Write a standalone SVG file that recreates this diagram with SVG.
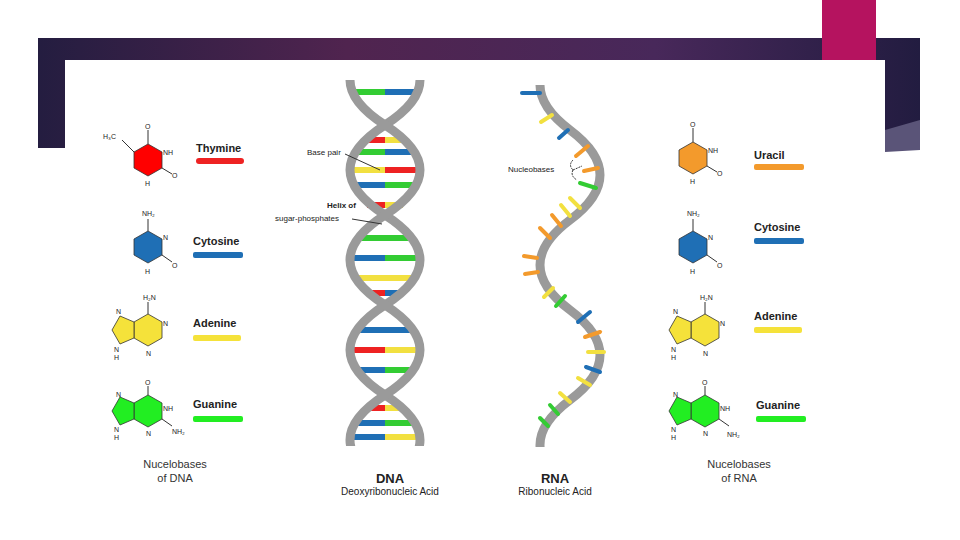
<svg xmlns="http://www.w3.org/2000/svg" width="960" height="540" viewBox="0 0 960 540">
<defs>
<linearGradient id="band" x1="0" x2="1" y1="0" y2="0">
<stop offset="0" stop-color="#241d40"/><stop offset="0.35" stop-color="#50244f"/><stop offset="0.7" stop-color="#48285a"/><stop offset="1" stop-color="#221c40"/>
</linearGradient>
<clipPath id="dnaClip"><rect x="300" y="80" width="170" height="366"/></clipPath>
<clipPath id="rnaClip"><rect x="500" y="85" width="130" height="362"/></clipPath>
</defs>
<style>
.t{font-family:"Liberation Sans",Arial,sans-serif;fill:#222}
.lab{font-size:11px;font-weight:bold}
.sm{font-size:7px}
.cap{font-size:11px;fill:#333}
.ann{font-size:8px}
.strand{fill:none;stroke:#9a9a9a;stroke-width:9}
.rung{stroke-width:6;stroke-linecap:butt}
.stub{stroke-width:4;stroke-linecap:round}
.ring{stroke:#333;stroke-width:0.8}
.bond{stroke:#333;stroke-width:1;fill:none}
</style>
<rect width="960" height="540" fill="#fff"/>
<g id="frame">
<rect x="38" y="38" width="882" height="110" fill="url(#band)"/>
<polygon points="885,130 920,120 920,150 885,152" fill="#5a5478"/>
<rect x="822" y="0" width="54" height="60" fill="#b5135f"/>
<rect x="65" y="60" width="820" height="480" fill="#fff"/>
</g>
<g id="dna">
<g clip-path="url(#dnaClip)">
<g id="rungs">
<line class="rung" x1="353" y1="92" x2="385" y2="92" stroke="#3c3"/><line class="rung" x1="385" y1="92" x2="417" y2="92" stroke="#1f6fb5"/>
<line class="rung" x1="367" y1="140" x2="385" y2="140" stroke="#e22"/><line class="rung" x1="385" y1="140" x2="403" y2="140" stroke="#f2e040"/>
<line class="rung" x1="358" y1="152" x2="385" y2="152" stroke="#3c3"/><line class="rung" x1="385" y1="152" x2="412" y2="152" stroke="#1f6fb5"/>
<line class="rung" x1="350" y1="170" x2="385" y2="170" stroke="#f2e040"/><line class="rung" x1="385" y1="170" x2="420" y2="170" stroke="#e22"/>
<line class="rung" x1="353" y1="185" x2="385" y2="185" stroke="#1f6fb5"/><line class="rung" x1="385" y1="185" x2="417" y2="185" stroke="#3c3"/>
<line class="rung" x1="367" y1="205" x2="385" y2="205" stroke="#e22"/><line class="rung" x1="385" y1="205" x2="403" y2="205" stroke="#f2e040"/>
<line class="rung" x1="358" y1="238" x2="385" y2="238" stroke="#3c3"/><line class="rung" x1="385" y1="238" x2="412" y2="238" stroke="#3c3"/>
<line class="rung" x1="352" y1="258" x2="385" y2="258" stroke="#1f6fb5"/><line class="rung" x1="385" y1="258" x2="418" y2="258" stroke="#3c3"/>
<line class="rung" x1="355" y1="278" x2="385" y2="278" stroke="#f2e040"/><line class="rung" x1="385" y1="278" x2="415" y2="278" stroke="#f2e040"/>
<line class="rung" x1="367" y1="293" x2="385" y2="293" stroke="#e22"/><line class="rung" x1="385" y1="293" x2="403" y2="293" stroke="#1f6fb5"/>
<line class="rung" x1="358" y1="330" x2="385" y2="330" stroke="#1f6fb5"/><line class="rung" x1="385" y1="330" x2="412" y2="330" stroke="#1f6fb5"/>
<line class="rung" x1="350" y1="350" x2="385" y2="350" stroke="#e22"/><line class="rung" x1="385" y1="350" x2="420" y2="350" stroke="#f2e040"/>
<line class="rung" x1="358" y1="370" x2="385" y2="370" stroke="#1f6fb5"/><line class="rung" x1="385" y1="370" x2="412" y2="370" stroke="#3c3"/>
<line class="rung" x1="367" y1="408" x2="385" y2="408" stroke="#e22"/><line class="rung" x1="385" y1="408" x2="403" y2="408" stroke="#f2e040"/>
<line class="rung" x1="355" y1="423" x2="385" y2="423" stroke="#1f6fb5"/><line class="rung" x1="385" y1="423" x2="415" y2="423" stroke="#3c3"/>
<line class="rung" x1="352" y1="437" x2="385" y2="437" stroke="#1f6fb5"/><line class="rung" x1="385" y1="437" x2="418" y2="437" stroke="#f2e040"/>
</g>
<path class="strand" d="M385,35 Q455,80 385,125 T385,215 T385,305 T385,395 T385,485" stroke="#8a8a8a"/>
<path class="strand" d="M385,35 Q315,80 385,125 T385,215 T385,305 T385,395 T385,485"/>
</g>
<text class="t ann" x="307" y="155">Base pair</text>
<line class="bond" x1="345" y1="154" x2="380" y2="170" stroke-width="0.6"/>
<text class="t ann" x="327" y="208" font-weight="bold">Helix of</text>
<text class="t ann" x="275" y="221">sugar-phosphates</text>
<line class="bond" x1="352" y1="219" x2="382" y2="224" stroke-width="0.6"/>
<text class="t" x="390" y="483" text-anchor="middle" font-size="13" font-weight="bold">DNA</text>
<text class="t" x="390" y="495" text-anchor="middle" font-size="10">Deoxyribonucleic Acid</text>
</g>
<g id="rna">
<g clip-path="url(#rnaClip)">
<path class="strand" d="M570,40 Q510,85 570,130 T570,220 T570,310 T570,400 T570,490"/>
</g>
<g id="stubs">
<line class="stub" x1="522" y1="93" x2="540" y2="93" stroke="#1f6fb5"/>
<line class="stub" x1="541" y1="122" x2="552" y2="115" stroke="#f2e040"/>
<line class="stub" x1="559" y1="138" x2="568" y2="130" stroke="#1f6fb5"/>
<line class="stub" x1="576" y1="156" x2="588" y2="146" stroke="#f39a2c"/>
<line class="stub" x1="584" y1="171" x2="598" y2="168" stroke="#f39a2c"/>
<line class="stub" x1="580" y1="183" x2="596" y2="188" stroke="#3c3"/>
<line class="stub" x1="570" y1="198" x2="580" y2="208" stroke="#f2e040"/>
<line class="stub" x1="561" y1="205" x2="570" y2="216" stroke="#f2e040"/>
<line class="stub" x1="552" y1="215" x2="561" y2="226" stroke="#f39a2c"/>
<line class="stub" x1="540" y1="228" x2="550" y2="238" stroke="#f39a2c"/>
<line class="stub" x1="524" y1="256" x2="537" y2="258" stroke="#f39a2c"/>
<line class="stub" x1="525" y1="274" x2="538" y2="272" stroke="#f39a2c"/>
<line class="stub" x1="544" y1="297" x2="553" y2="288" stroke="#f2e040"/>
<line class="stub" x1="556" y1="306" x2="565" y2="296" stroke="#3c3"/>
<line class="stub" x1="578" y1="322" x2="590" y2="312" stroke="#1f6fb5"/>
<line class="stub" x1="585" y1="337" x2="600" y2="332" stroke="#f39a2c"/>
<line class="stub" x1="588" y1="352" x2="604" y2="352" stroke="#f2e040"/>
<line class="stub" x1="586" y1="367" x2="600" y2="372" stroke="#1f6fb5"/>
<line class="stub" x1="578" y1="378" x2="590" y2="385" stroke="#f2e040"/>
<line class="stub" x1="560" y1="393" x2="570" y2="402" stroke="#f2e040"/>
<line class="stub" x1="550" y1="405" x2="558" y2="414" stroke="#3c3"/>
<line class="stub" x1="540" y1="418" x2="548" y2="426" stroke="#3c3"/>
</g>
<text class="t ann" x="508" y="172">Nucleobases</text>
<path class="bond" d="M573,160 Q568,165 573,170 M573,170 L582,166 M573,170 Q570,176 577,180" stroke-width="0.6" stroke-dasharray="2,1"/>
<text class="t" x="555" y="483" text-anchor="middle" font-size="13" font-weight="bold">RNA</text>
<text class="t" x="555" y="495" text-anchor="middle" font-size="10">Ribonucleic Acid</text>
</g>
<g id="dna-bases">
<g id="thymine">
<polygon class="ring" points="148,144 162,152 162,168 148,176 134,168 134,152" fill="#f00"/>
<line class="bond" x1="148" y1="144" x2="148" y2="130"/><line class="bond" x1="134" y1="152" x2="122" y2="140"/>
<line class="bond" x1="162" y1="168" x2="172" y2="174"/>
<text class="t sm" x="145" y="129">O</text><text class="t sm" x="103" y="139">H₃C</text><text class="t sm" x="163" y="155">NH</text><text class="t sm" x="172" y="178">O</text><text class="t sm" x="145" y="186">H</text>
<text class="t lab" x="196" y="152">Thymine</text>
<rect x="196" y="158" width="48" height="6" rx="3" fill="#e22"/>
</g>
<g id="cytosine">
<polygon class="ring" points="148,231 162,239 162,255 148,263 134,255 134,239" fill="#1f6fb5"/>
<line class="bond" x1="148" y1="231" x2="148" y2="219"/><line class="bond" x1="162" y1="255" x2="172" y2="262"/>
<text class="t sm" x="142" y="216">NH₂</text><text class="t sm" x="163" y="240">N</text><text class="t sm" x="172" y="268">O</text><text class="t sm" x="145" y="274">H</text>
<text class="t lab" x="193" y="245">Cytosine</text>
<rect x="193" y="252" width="50" height="6" rx="2" fill="#1f6fb5"/>
</g>
<g id="adenine">
<polygon class="ring" points="148,314 162,322 162,338 148,346 134,338 134,322" fill="#f5e23a"/>
<polygon class="ring" points="134,322 134,338 120,344 112,330 120,316" fill="#f5e23a"/>
<line class="bond" x1="148" y1="314" x2="148" y2="302"/>
<text class="t sm" x="143" y="300">H₂N</text><text class="t sm" x="163" y="326">N</text><text class="t sm" x="146" y="356">N</text><text class="t sm" x="116" y="314">N</text><text class="t sm" x="114" y="352">N</text><text class="t sm" x="114" y="360">H</text>
<text class="t lab" x="193" y="327">Adenine</text>
<rect x="193" y="335" width="48" height="6" rx="2" fill="#f5e23a"/>
</g>
<g id="guanine">
<polygon class="ring" points="148,395 162,403 162,419 148,427 134,419 134,403" fill="#2e2"/>
<polygon class="ring" points="134,403 134,419 120,425 112,411 120,397" fill="#2e2"/>
<line class="bond" x1="148" y1="395" x2="148" y2="386"/><line class="bond" x1="162" y1="419" x2="172" y2="426"/>
<text class="t sm" x="145" y="385">O</text><text class="t sm" x="163" y="411">NH</text><text class="t sm" x="172" y="434">NH₂</text><text class="t sm" x="146" y="436">N</text><text class="t sm" x="116" y="397">N</text><text class="t sm" x="114" y="432">N</text><text class="t sm" x="114" y="440">H</text>
<text class="t lab" x="193" y="408">Guanine</text>
<rect x="193" y="416" width="50" height="6" rx="2" fill="#2e2"/>
</g>
<text class="t cap" x="175" y="468" text-anchor="middle">Nucelobases</text>
<text class="t cap" x="175" y="482" text-anchor="middle">of DNA</text>
</g>
<g id="rna-bases">
<g id="uracil">
<polygon class="ring" points="693,142 707,150 707,166 693,174 679,166 679,150" fill="#f39a2c"/>
<line class="bond" x1="693" y1="142" x2="693" y2="128"/><line class="bond" x1="707" y1="166" x2="717" y2="172"/>
<text class="t sm" x="690" y="127">O</text><text class="t sm" x="708" y="153">NH</text><text class="t sm" x="717" y="176">O</text><text class="t sm" x="690" y="184">H</text>
<text class="t lab" x="754" y="159">Uracil</text>
<rect x="754" y="164" width="50" height="6" rx="2" fill="#f39a2c"/>
</g>
<g id="cytosine2">
<polygon class="ring" points="693,231 707,239 707,255 693,263 679,255 679,239" fill="#1f6fb5"/>
<line class="bond" x1="693" y1="231" x2="693" y2="219"/><line class="bond" x1="707" y1="255" x2="717" y2="262"/>
<text class="t sm" x="687" y="216">NH₂</text><text class="t sm" x="708" y="240">N</text><text class="t sm" x="717" y="268">O</text><text class="t sm" x="690" y="274">H</text>
<text class="t lab" x="754" y="231">Cytosine</text>
<rect x="754" y="238" width="50" height="6" rx="2" fill="#1f6fb5"/>
</g>
<g id="adenine2">
<polygon class="ring" points="705,314 719,322 719,338 705,346 691,338 691,322" fill="#f5e23a"/>
<polygon class="ring" points="691,322 691,338 677,344 669,330 677,316" fill="#f5e23a"/>
<line class="bond" x1="705" y1="314" x2="705" y2="302"/>
<text class="t sm" x="700" y="300">H₂N</text><text class="t sm" x="720" y="326">N</text><text class="t sm" x="703" y="356">N</text><text class="t sm" x="673" y="314">N</text><text class="t sm" x="671" y="352">N</text><text class="t sm" x="671" y="360">H</text>
<text class="t lab" x="754" y="320">Adenine</text>
<rect x="754" y="327" width="48" height="6" rx="2" fill="#f5e23a"/>
</g>
<g id="guanine2">
<polygon class="ring" points="705,395 719,403 719,419 705,427 691,419 691,403" fill="#2e2"/>
<polygon class="ring" points="691,403 691,419 677,425 669,411 677,397" fill="#2e2"/>
<line class="bond" x1="705" y1="395" x2="705" y2="386"/><line class="bond" x1="719" y1="419" x2="729" y2="426"/>
<text class="t sm" x="702" y="385">O</text><text class="t sm" x="720" y="411">NH</text><text class="t sm" x="727" y="437">NH₂</text><text class="t sm" x="703" y="436">N</text><text class="t sm" x="673" y="397">N</text><text class="t sm" x="671" y="432">N</text><text class="t sm" x="671" y="440">H</text>
<text class="t lab" x="756" y="409">Guanine</text>
<rect x="756" y="416" width="50" height="6" rx="2" fill="#2e2"/>
</g>
<text class="t cap" x="739" y="468" text-anchor="middle">Nucelobases</text>
<text class="t cap" x="739" y="482" text-anchor="middle">of RNA</text>
</g>
</svg>
